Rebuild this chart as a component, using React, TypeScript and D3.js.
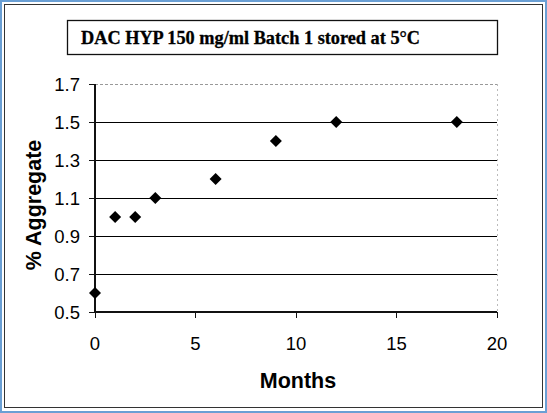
import React from 'react';
import { scaleLinear, path as d3path } from 'd3';

const months = [0, 1, 2, 3, 6, 9, 12, 18];
const aggregate = [0.6, 1.0, 1.0, 1.1, 1.2, 1.4, 1.5, 1.5];
const xTicks = [0, 5, 10, 15, 20];
const yTicks = [0.5, 0.7, 0.9, 1.1, 1.3, 1.5, 1.7];
const title = 'DAC HYP 150 mg/ml Batch 1 stored at 5°C';

const W = 547;
const H = 413;

// square diamond marker, half-diagonal r
const diamondPath = (r: number) => {
  const p = d3path();
  p.moveTo(0, -r);
  p.lineTo(r, 0);
  p.lineTo(0, r);
  p.lineTo(-r, 0);
  p.closePath();
  return p.toString();
};

const App: React.FC = () => {
  const x = scaleLinear().domain([0, 20]).range([95, 497]);
  const y = scaleLinear().domain([0.5, 1.7]).range([312, 84]);
  const marker = diamondPath(6);

  return (
    <svg
      width={W}
      height={H}
      style={{ position: 'fixed', left: 0, top: 0, background: '#fff' }}
      fontFamily="Arial, 'Liberation Sans', sans-serif"
    >
      {/* outer frame */}
      <rect x={1} y={1} width={W - 2} height={H - 2} fill="none" stroke="#6a9fd4" strokeWidth={2} />
      <rect x={4.5} y={4.5} width={538} height={403} fill="none" stroke="#333" strokeWidth={1} />

      {/* title box */}
      <rect x={67.5} y={20.5} width={430} height={34} fill="#fff" stroke="#111" strokeWidth={1.3} />
      <text
        x={81}
        y={44}
        fontFamily="'Liberation Serif', 'Times New Roman', serif"
        fontWeight="bold"
        fontSize={18.3}
        fill="#000"
        stroke="#000"
        strokeWidth={0.3}
      >
        {title}
      </text>

      {/* gridlines */}
      <g shapeRendering="crispEdges">
        {yTicks.filter(t => t > 0.5).map(t => (
          <line
            key={t}
            x1={x(0)}
            x2={x(20)}
            y1={y(t)}
            y2={y(t)}
            stroke={t === 1.7 ? '#999' : '#000'}
            strokeWidth={1}
            strokeDasharray={t === 1.7 ? '3,2' : undefined}
          />
        ))}
        <line x1={x(20)} x2={x(20)} y1={y(1.7)} y2={y(0.5)} stroke="#bbb" strokeDasharray="2,3" />

        {/* y axis */}
        <line x1={x(0)} x2={x(0)} y1={y(1.7)} y2={y(0.5)} stroke="#111" strokeWidth={1.5} />
        {yTicks.map(t => (
          <line key={t} x1={x(0) - 6} x2={x(0)} y1={y(t)} y2={y(t)} stroke="#111" />
        ))}

        {/* x axis */}
        <line x1={x(0)} x2={x(20)} y1={y(0.5)} y2={y(0.5)} stroke="#111" strokeWidth={1.5} />
        {xTicks.map(t => (
          <line key={t} x1={x(t)} x2={x(t)} y1={y(0.5)} y2={y(0.5) + 6} stroke="#111" />
        ))}
      </g>

      {yTicks.map(t => (
        <text key={t} x={80} y={y(t)} dy="0.36em" textAnchor="end" fontSize={18.5} fill="#000">
          {t.toFixed(1)}
        </text>
      ))}
      {xTicks.map(t => (
        <text key={t} x={x(t)} y={350} textAnchor="middle" fontSize={18.5} fill="#000">
          {t}
        </text>
      ))}

      {/* axis titles */}
      <text x={298} y={388} textAnchor="middle" fontSize={21.5} fontWeight="bold" fill="#000">
        Months
      </text>
      <text
        transform="translate(41,205) rotate(-90)"
        textAnchor="middle"
        fontSize={21.5}
        fontWeight="bold"
        fill="#000"
      >
        % Aggregate
      </text>

      {/* points */}
      {months.map((m, i) => (
        <path key={i} d={marker} transform={`translate(${x(m)},${y(aggregate[i])})`} fill="#000" />
      ))}
    </svg>
  );
};

export default App;
